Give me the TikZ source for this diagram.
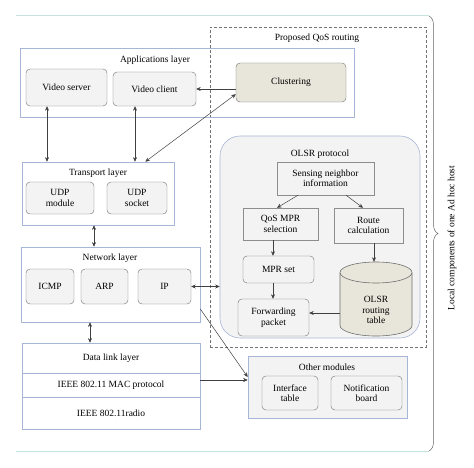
\documentclass[tikz,border=0pt]{standalone}
\usepackage{fontspec}
\setmainfont{Liberation Serif}
\usetikzlibrary{arrows.meta,decorations.pathreplacing}

\definecolor{layerblue}{HTML}{A7B6D6}
\definecolor{modgray}{HTML}{707070}
\definecolor{boxfill}{HTML}{F3F3F4}
\definecolor{sandfill}{HTML}{E8E6DA}
\definecolor{hostline}{HTML}{C6E4DF}

\begin{document}
\begin{tikzpicture}[
    x=1pt, y=-1pt,
    font=\fontsize{9.5}{10.5}\selectfont,
    layer/.style={rectangle, draw=layerblue, line width=0.6pt, inner sep=0pt},
    module/.style={rectangle, rounded corners=4pt, draw=modgray, fill=boxfill, align=center, inner sep=1pt},
    plainbox/.style={rectangle, draw=modgray!80, fill=boxfill, align=center, inner sep=1pt},
    arrow/.style={-{Stealth[length=4.5pt, width=4pt]}, draw=black!75, line width=0.5pt},
    twoway/.style={{Stealth[length=4.5pt, width=4pt]}-{Stealth[length=4.5pt, width=4pt]}, draw=black!75, line width=0.5pt}
]
\useasboundingbox (0,0) rectangle (474,468);

% Host frame
\draw[hostline, line width=1pt] (16,16) -- (429,16);
\draw[hostline, line width=1pt] (16,451) -- (429,451);
\draw[black!60, line width=0.5pt, decorate, decoration={brace, amplitude=9pt}] (429,16) -- (429,451);
\node[rotate=90] (hostlbl) at (452,238) {Local components of one Ad hoc host};

% Proposed QoS routing
\node[rectangle, draw=black!55, dash pattern=on 3pt off 2pt, line width=0.6pt, minimum width=216pt, minimum height=320pt] (qos) at (318,187) {};
\node (qoslbl) at (317,38) {Proposed QoS routing};

% Applications layer
\node[layer, minimum width=334pt, minimum height=69pt] (app) at (187,82.5) {};
\node (applbl) at (155,60) {Applications layer};
\node[module, minimum width=81pt, minimum height=37pt] (vserver) at (66.5,87.5) {Video server};
\node[module, minimum width=83pt, minimum height=34pt] (vclient) at (154.5,89) {Video client};
\node[module, fill=sandfill, minimum width=110pt, minimum height=39pt] (cluster) at (291,82.5) {Clustering};

% Transport layer
\node[layer, minimum width=152pt, minimum height=63pt] (transport) at (98,193.5) {};
\node (translbl) at (98,173) {Transport layer};
\node[module, minimum width=68pt, minimum height=32pt] (udpm) at (60,198) {UDP\\module};
\node[module, minimum width=60pt, minimum height=32pt] (udps) at (137,198) {UDP\\socket};

% Network layer
\node[layer, minimum width=179pt, minimum height=75pt] (network) at (110.5,284.5) {};
\node (netlbl) at (110,258) {Network layer};
\node[module, minimum width=48pt, minimum height=35pt] (icmp) at (50,286.5) {ICMP};
\node[module, minimum width=47pt, minimum height=35pt] (arp) at (104.5,286.5) {ARP};
\node[module, minimum width=53pt, minimum height=35pt] (ip) at (164.5,286.5) {IP};

% Data link layer
\node[layer, minimum width=178pt, minimum height=30pt] (dlink) at (111,358) {Data link layer};
\node[layer, minimum width=178pt, minimum height=24pt] (mac) at (111,385) {IEEE 802.11 MAC protocol};
\node[layer, minimum width=178pt, minimum height=32pt] (radio) at (111,413) {IEEE 802.11radio};

% OLSR protocol
\node[rectangle, rounded corners=20pt, draw=layerblue, fill=boxfill, line width=0.6pt, minimum width=200pt, minimum height=202pt] (olsr) at (320,237) {};
\node (olsrlbl) at (320,154) {OLSR protocol};
\node[plainbox, minimum width=97pt, minimum height=33pt] (sensing) at (325.5,178.5) {Sensing neighbor\\information};
\node[plainbox, minimum width=75pt, minimum height=32pt] (qosmpr) at (280.5,224) {QoS MPR\\selection};
\node[plainbox, minimum width=69pt, minimum height=35pt] (route) at (368.5,225.5) {Route\\calculation};
\node[module, minimum width=71pt, minimum height=27pt] (mprset) at (278.5,269.5) {MPR set};
\node[module, minimum width=71pt, minimum height=37pt] (fwd) at (273.5,317.5) {Forwarding\\packet};

% routing table drum
\draw[modgray, fill=sandfill, line width=0.6pt] (340,272.5) -- (340,325.5)
    arc[start angle=180, end angle=0, x radius=36, y radius=10.5] -- (412,272.5);
\draw[modgray, fill=sandfill, line width=0.6pt] (376,272.5) ellipse[x radius=36, y radius=10.5];
\node[minimum width=72pt, minimum height=74pt] (cyl) at (376,299) {};
\node[align=center] (cyltxt) at (376,310) {OLSR\\routing\\table};

% Other modules
\node[layer, fill=boxfill, minimum width=159pt, minimum height=62pt] (other) at (327.5,387) {};
\node (otherlbl) at (327,367) {Other modules};
\node[module, minimum width=56pt, minimum height=34pt] (iface) at (290,393) {Interface\\table};
\node[module, minimum width=71pt, minimum height=34pt] (notif) at (366.5,393) {Notification\\board};

% Connectors
\draw[arrow] (cluster.west |- vclient) -- (vclient.east);
\draw[twoway] ([yshift=8pt]cluster.south west) -- ([xshift=-29pt]transport.north east);
\draw[twoway] (vserver.south -| 47,0) -- (transport.north -| 47,0);
\draw[twoway] (vclient.south -| 135,0) -- (transport.north -| 135,0);
\draw[twoway] (transport.south -| 94,0) -- (network.north -| 94,0);
\draw[twoway] (network.south -| 90,0) -- (dlink.north -| 90,0);
\draw[twoway] (ip.east) -- (ip.east -| olsr.west);
\draw[arrow] (sensing.south -| 298,0) -- (qosmpr.north -| 277,0);
\draw[arrow] (sensing.south -| 346,0) -- (route.north -| 363,0);
\draw[arrow] (qosmpr.south -| 273,0) -- (mprset.north -| 273,0);
\draw[arrow] (mprset.south -| 273,0) -- (fwd.north -| 273,0);
\draw[arrow] (route.south -| 374,0) -- (cyl.north -| 374,0);
\draw[arrow] (cyl.west |- 0,313) -- (fwd.east |- 0,313);
\draw[arrow] (network.east |- 0,309) -- (other.west |- 0,377);
\draw[arrow] (mac.east |- 0,380) -- (other.west |- 0,380);

\end{tikzpicture}
\end{document}
